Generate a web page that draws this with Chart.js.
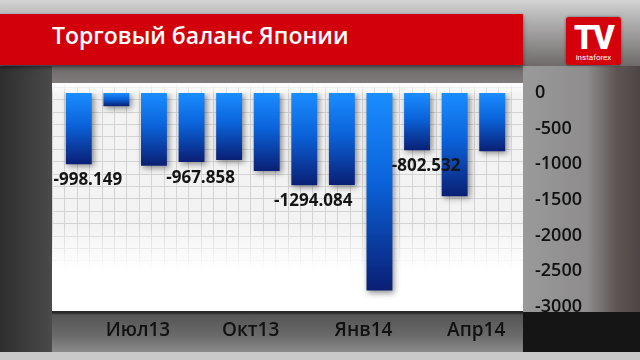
<!DOCTYPE html>
<html>
<head>
<meta charset="utf-8">
<script src="https://cdn.jsdelivr.net/npm/chart.js@4.4.1/dist/chart.umd.min.js"></script>
<style>
  body { margin: 0; width: 640px; height: 360px; position: relative; overflow: hidden;
         background: linear-gradient(to bottom, #d4d4d4 0, #bdbdbd 13px, #6e6a6a 66px, #807c7c 84px, #7c7878 100%);
         font-family: "Open Sans", sans-serif; }
  .strip { position: absolute; }
  #left { left: 0; top: 66px; width: 52px; height: 294px; background: linear-gradient(to right, #2e2e2e, #4a4a4a); }
  #right { left: 523px; top: 66px; width: 117px; height: 246px;
           background: linear-gradient(to right, #9a9a9a 0, #8e8c8c 55%, #5e5454 80%, #4e4646 100%); }
  #bottom { left: 52px; top: 311px; width: 471px; height: 41px;
            background: linear-gradient(to bottom, #2a2a2a 0, #2a2a2a 2px, #555 4px, #6a6a6a 60%, #8a8a8a 100%); }
  #corner { left: 523px; top: 312px; width: 117px; height: 40px; background: #151515; }
  #foot { left: 0; top: 352px; width: 640px; height: 8px; background: #c9c9c9; }
  #header { left: 0; top: 14px; width: 523px; height: 51px; background: #d2000a;
            box-shadow: 0 2px 4px rgba(0,0,0,0.5); }
  #title { left: 52px; top: 24px; color: #fff; font-size: 23px; line-height: 23px; font-weight: 600; white-space: nowrap; }
  #logo { left: 566px; top: 17px; width: 55px; height: 48px; background: #d4000c; border-radius: 3px;
          box-shadow: 0 0 3px rgba(0,0,0,0.5); text-align: center; color: #fff; }
  #logo .tv { font-family: Roboto, sans-serif; font-weight: 900; font-size: 33px; line-height: 33px; letter-spacing: -2px;
              margin-top: 4px; }
  #logo .brand { font-family: Roboto, sans-serif; font-size: 8px; line-height: 8px; }
  #panel { left: 52px; top: 83px; width: 471px; height: 228px;
           background:
             linear-gradient(to bottom, #fff 0, rgba(255,255,255,0) 12px, rgba(255,255,255,0) 62%, #fff 82%, #fff 100%),
             repeating-linear-gradient(90deg, #d3d3d3 0 1px, transparent 1px 12.4px),
             repeating-linear-gradient(0deg, #d3d3d3 0 1px, transparent 1px 12.4px),
             #f3f3f3; }
  canvas { position: absolute; left: 0; top: 0; }
</style>
</head>
<body>
<div class="strip" id="left"></div>
<div class="strip" id="right"></div>
<div class="strip" id="bottom"></div>
<div class="strip" id="corner"></div>
<div class="strip" id="foot"></div>
<div class="strip" id="header"></div>
<div class="strip" id="title">Торговый баланс Японии</div>
<div class="strip" id="logo"><div class="tv">TV</div><div class="brand">instaforex</div></div>
<div class="strip" id="panel"></div>
<canvas id="chart" width="640" height="360"></canvas>
<script>
const categories = ['Май13', 'Июн13', 'Июл13', 'Авг13', 'Сен13', 'Окт13',
                    'Ноя13', 'Дек13', 'Янв14', 'Фев14', 'Мар14', 'Апр14'];
const balance = [-998.149, -185, -1021, -967.858, -940, -1092,
                 -1294.084, -1290, -2770, -802.532, -1447, -815];
const tickLabels = ['Июл13', 'Окт13', 'Янв14', 'Апр14'];
const labelledBars = ['Май13', 'Авг13', 'Ноя13', 'Фев14'];

// blue bars, light on top and dark at the bottom of each bar
function barFill(c) {
  const chart = c.chart;
  if (!chart.chartArea || c.type !== 'data') return '#0a5cd0';
  const y = chart.scales.y;
  const g = chart.ctx.createLinearGradient(0, y.getPixelForValue(0), 0, y.getPixelForValue(c.raw));
  g.addColorStop(0, '#1a8dff');
  g.addColorStop(0.45, '#0b63da');
  g.addColorStop(1, '#0a1f74');
  return g;
}

const barShadow = {
  id: 'barShadow',
  beforeDatasetsDraw(chart) {
    const ctx = chart.ctx;
    ctx.save();
    ctx.shadowColor = 'rgba(0,0,0,0.45)';
    ctx.shadowBlur = 6;
    ctx.shadowOffsetX = 2;
    ctx.shadowOffsetY = 2;
  },
  afterDatasetsDraw(chart) {
    chart.ctx.restore();
  }
};

const valueLabels = {
  id: 'valueLabels',
  afterDatasetsDraw(chart) {
    const ctx = chart.ctx;
    const bars = chart.getDatasetMeta(0).data;
    ctx.save();
    ctx.font = 'bold 17px "Open Sans"';
    ctx.fillStyle = '#151515';
    ctx.textAlign = 'center';
    ctx.textBaseline = 'middle';
    categories.forEach((cat, i) => {
      if (!labelledBars.includes(cat)) return;
      ctx.fillText(balance[i].toFixed(3), bars[i].x + 9, bars[i].y + 16);
    });
    ctx.restore();
  }
};

new Chart(document.getElementById('chart'), {
  type: 'bar',
  data: {
    labels: categories,
    datasets: [{
      data: balance,
      backgroundColor: barFill,
      borderWidth: 0,
      categoryPercentage: 1,
      barPercentage: 0.69
    }]
  },
  options: {
    responsive: false,
    animation: false,
    layout: { padding: { left: 60, top: 93, right: 0, bottom: 0 } },
    plugins: { legend: { display: false }, tooltip: { enabled: false } },
    scales: {
      x: {
        grid: { display: false, drawTicks: false },
        border: { display: false },
        afterFit(scale) { scale.height = 53; },
        ticks: {
          autoSkip: false,
          maxRotation: 0,
          padding: 12,
          labelOffset: -16,
          color: '#111',
          font: { family: 'Open Sans', size: 19, weight: '600' },
          callback(value) {
            const lbl = this.getLabelForValue(value);
            return tickLabels.includes(lbl) ? lbl : '';
          }
        }
      },
      y: {
        position: 'right',
        min: -3000,
        max: 0,
        grid: { display: false, drawTicks: false },
        border: { display: false },
        afterFit(scale) { scale.width = 129; },
        ticks: {
          stepSize: 500,
          padding: 24,
          color: '#111',
          font: { family: 'Open Sans', size: 18, weight: '600' },
          callback: v => String(v)
        }
      }
    }
  },
  plugins: [barShadow, valueLabels]
});
</script>
</body>
</html>
